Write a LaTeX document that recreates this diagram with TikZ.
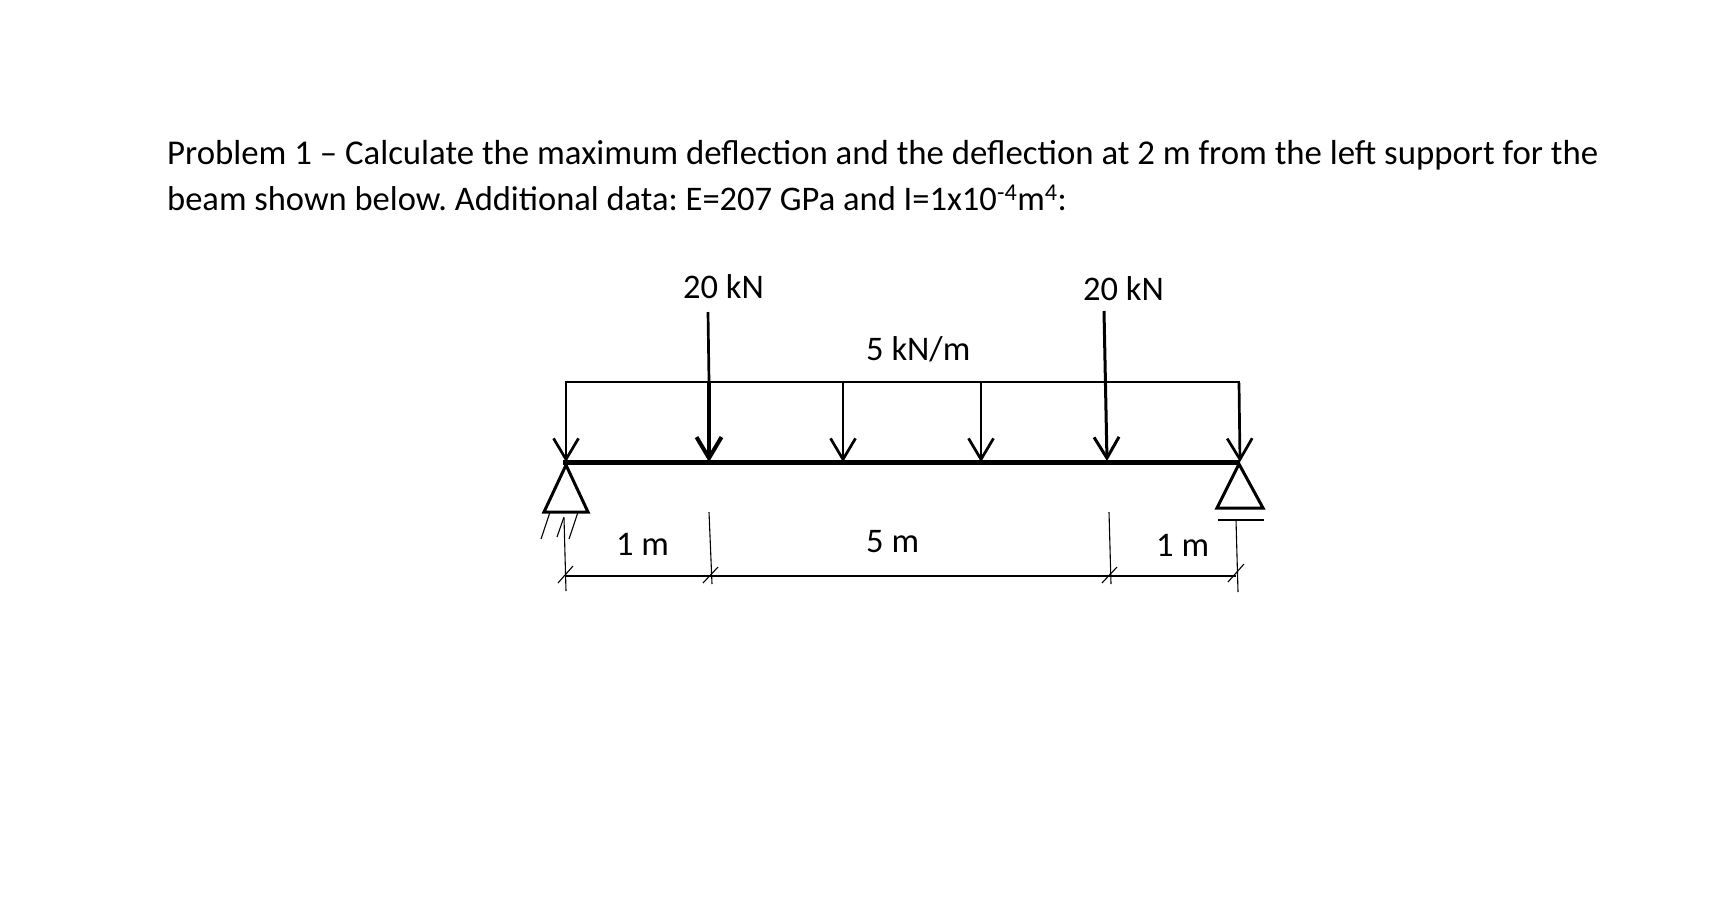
\documentclass[tikz,border=0pt]{standalone}
\usepackage{fontspec}
\setmainfont{Carlito}
\usetikzlibrary{arrows.meta, positioning}

\begin{document}
\frenchspacing
\begin{tikzpicture}[x=1pt, y=-1pt,
    txt/.style={inner sep=0pt, anchor=base west, font=\fontsize{34.8}{42}\selectfont},
    lbl/.style={inner sep=0pt, anchor=base west, font=\fontsize{34.5}{42}\selectfont},
    load/.style={line width=2.7pt, -{Straight Barb[length=21pt, width=25pt, line width=2.7pt]}},
    force/.style={line width=3pt, -{Straight Barb[length=21pt, width=25pt, line width=3pt]}},
    dim/.style={line width=1.1pt},
    sup/.style={line width=3pt, line join=miter}]
      \useasboundingbox (0,0) rectangle (1734,898);
      % text
      \node[txt] (line1) at (167,164) {Problem 1 -- Calculate the maximum deflection and the deflection at 2 m from the left support for the};
      \node[lbl] (line2) at (167,210) {beam shown below. Additional data: E=207 GPa and I=1x10\textsuperscript{-4}m\textsuperscript{4}:};
      \node[lbl] (f1) at (683,298) {20 kN};
      \node[lbl] (f2) at (1083,300) {20 kN};
      \node[lbl] (q) at (866,360) {5 kN/m};
      \node[lbl] (d1) at (616,555) {1 m};
      \node[lbl] (d2) at (866,552) {5 m};
      \node[lbl] (d3) at (1156,556) {1 m};
      % beam and load
      \coordinate (bl) at (563,462.5);
      \coordinate (br) at (1240,462.5);
      \coordinate (ql) at (565,382);
      \coordinate (qr) at (1240,382);
      \draw[line width=4.4pt] (bl) -- (br);
      \draw[line width=2.6pt] (ql) -- (qr);
      \foreach \name/\xa/\xb in {a/566/566, b/843/843, c/981/981, e/1239/1240}
      {
        \coordinate (t\name) at (\xa,383);
        \coordinate (h\name) at (\xb,462);
        \draw[load] (t\name) -- (h\name);
      }
      \coordinate (p1) at (708,312);
      \coordinate (h1) at (709,462);
      \coordinate (k1) at (709,382);
      \coordinate (p2) at (1104,311);
      \coordinate (h2) at (1107,461);
      \draw[line width=2.7pt] (p1) -- (k1);
      \draw[line width=4pt, -{Straight Barb[length=21pt, width=25pt, line width=4pt]}] (k1) -- (h1);
      \draw[force] (p2) -- (h2);
      % supports
      \coordinate (a1) at (566,465);
      \coordinate (a2) at (544,512);
      \coordinate (a3) at (588,512);
      \draw[sup] (a1) -- (a2) -- (a3) -- cycle;
      \coordinate (b1) at (1239,464);
      \coordinate (b2) at (1217,508);
      \coordinate (b3) at (1263,508);
      \draw[sup] (b1) -- (b2) -- (b3) -- cycle;
      \coordinate (r1) at (1218,520);
      \coordinate (r2) at (1264,520);
      \draw[line width=1.5pt] (r1) -- (r2);
      \foreach \name/\xa/\ya/\xb/\yb in {u/550/512/541/539, v/564/517/557/537, w/578/512/569/539}
      {
        \coordinate (\name1) at (\xa,\ya);
        \coordinate (\name2) at (\xb,\yb);
        \draw[dim] (\name1) -- (\name2);
      }
      % dimensions
      \coordinate (dl) at (566,576);
      \coordinate (dr) at (1236,576);
      \draw[dim] (dl) -- (dr);
      \foreach \name/\xa/\ya/\xb/\yb/\xc/\yc/\xd/\yd in {
        g/564/518/566/591/558/583/573/566,
        i/709/512/712/584/703/583/718/567,
        j/1109/512/1111/584/1102/583/1117/567,
        l/1236/520/1238/592/1228/582/1244/564}
      {
        \coordinate (\name v1) at (\xa,\ya);
        \coordinate (\name v2) at (\xb,\yb);
        \coordinate (\name s1) at (\xc,\yc);
        \coordinate (\name s2) at (\xd,\yd);
        \draw[dim] (\name v1) -- (\name v2);
        \draw[dim] (\name s1) -- (\name s2);
      }
    \end{tikzpicture}
\end{document}
